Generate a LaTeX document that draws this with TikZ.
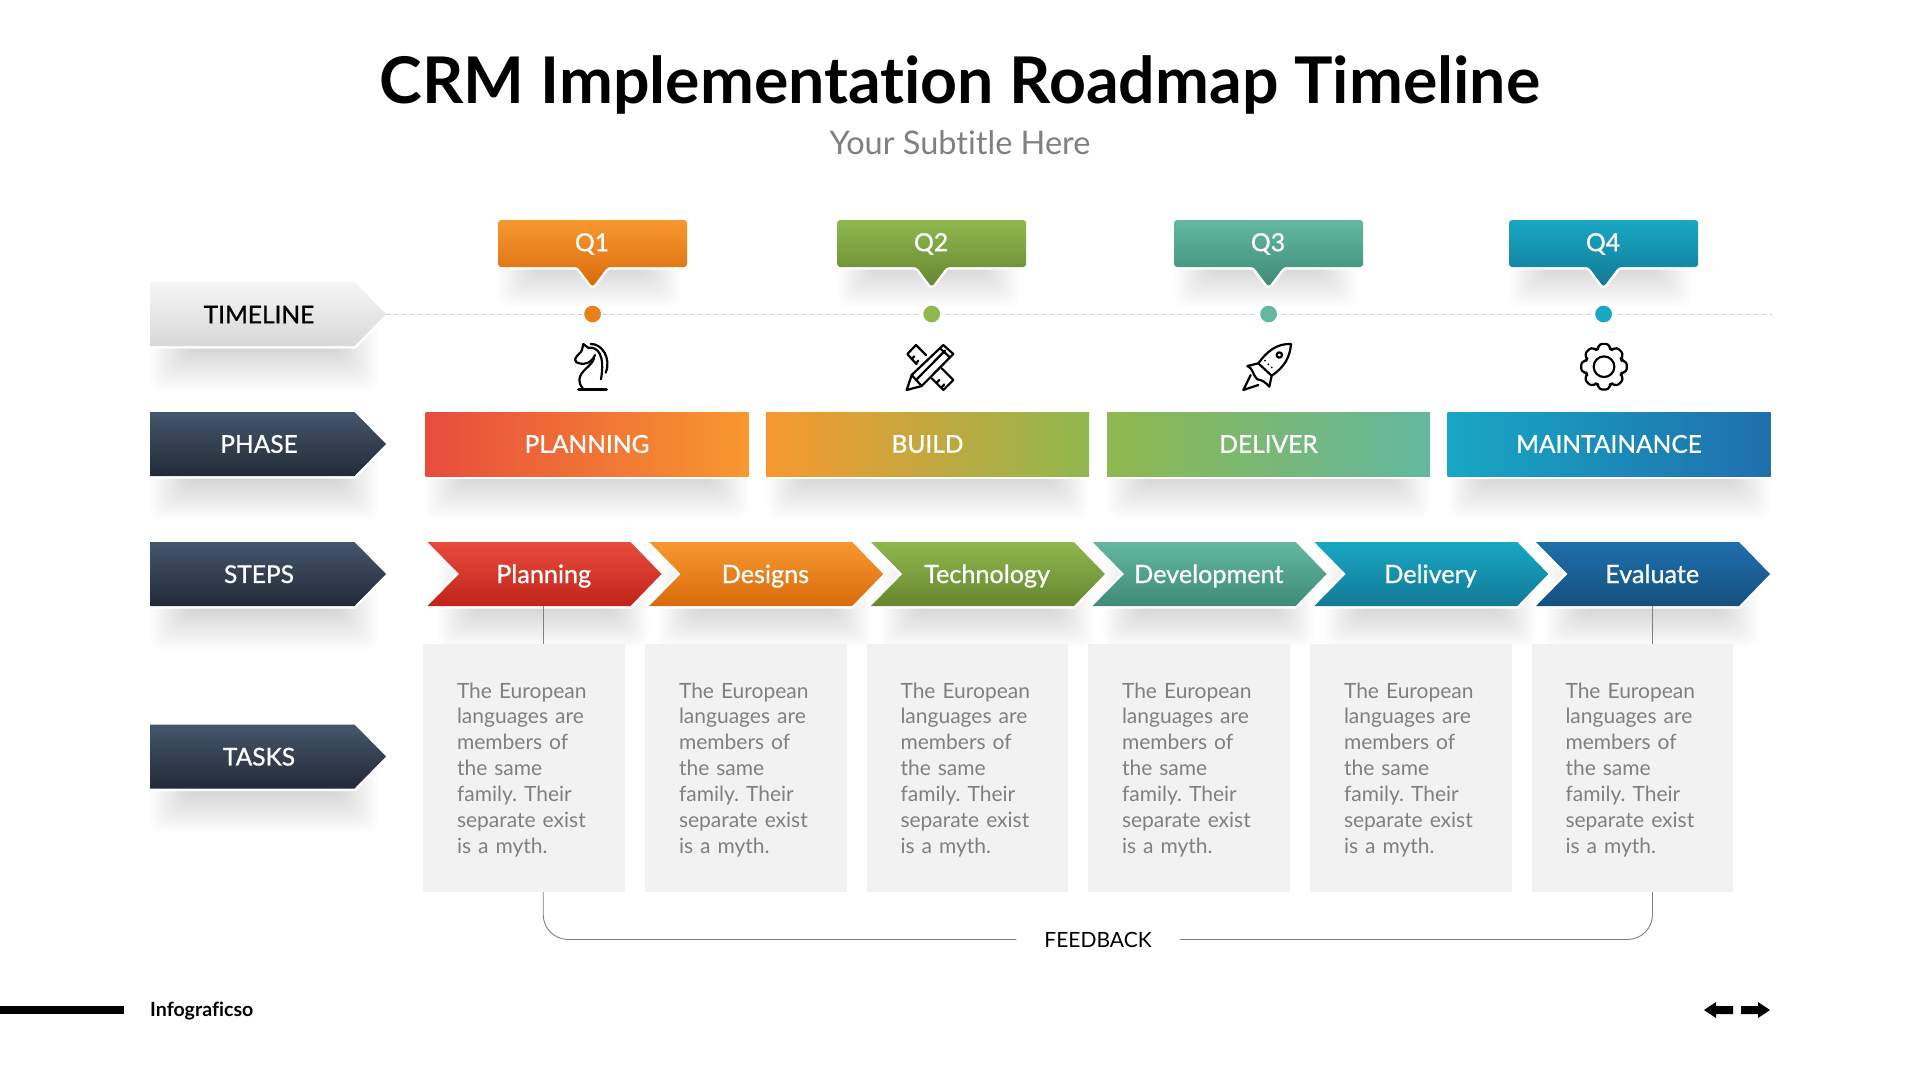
\documentclass[tikz,border=0pt]{standalone}
\usepackage{fontspec}
\setmainfont{Lato}[Ligatures = NoCommon]
\newfontfamily\labelfont{Lato}[Ligatures = NoCommon, FakeBold = 0.9]
\usetikzlibrary{calc}

% gradient ends
\definecolor{redTop}{HTML}{E84C3D}
\definecolor{redBot}{HTML}{C0241A}
\definecolor{orangeTop}{HTML}{F7982F}
\definecolor{orangeBot}{HTML}{D96B0C}
\definecolor{orangeDot}{HTML}{E8811A}
\definecolor{greenTop}{HTML}{8FB84E}
\definecolor{greenBot}{HTML}{66862F}
\definecolor{tealTop}{HTML}{62B8A0}
\definecolor{tealBot}{HTML}{3F8A78}
\definecolor{cyanTop}{HTML}{18A7C4}
\definecolor{cyanBot}{HTML}{127A96}
\definecolor{blueTop}{HTML}{1F6FAD}
\definecolor{blueBot}{HTML}{15507E}
\definecolor{slateTop}{HTML}{46566D}
\definecolor{slateBot}{HTML}{222A36}
\definecolor{paleTop}{HTML}{F6F6F6}
\definecolor{paleBot}{HTML}{D8D8D8}
\definecolor{taskGrey}{HTML}{F2F2F2}
\definecolor{taskInk}{HTML}{808080}

\tikzset{
	labeltext/.style = {font = \fontsize{24.5}{30}\labelfont\selectfont, text = white},
	phasebar/.style = {minimum width = 323, minimum height = 64, inner sep = 0, labeltext},
	quartertext/.style = {font = \fontsize{24.8}{30}\labelfont\selectfont, text = white, inner sep = 0},
	steptext/.style = {minimum width = 234, minimum height = 64, inner sep = 0, text height = 24, text depth = 6, font = \fontsize{25.2}{30}\labelfont\selectfont, text = white},
	taskbox/.style = {fill = taskGrey, minimum width = 201.5, minimum height = 248, inner sep = 0},
	tasktext/.style = {text = taskInk, inner sep = 0, text width = 134, align = left, font = \fontsize{21}{25.9}\selectfont\frenchspacing},
	dotmark/.style = {circle, draw = white, line width = 2, minimum size = 19, inner sep = 0},
	linkline/.style = {draw = gray, line width = 0.9},
	whiteedge/.style = {preaction = {draw = white, line width = 5}},
	iconline/.style = {draw = black, line width = 2.2, line cap = round, line join = round}
}

% blurred shadow made of nested rectangles
\newcommand{\softShadow}[4]{
	\foreach \k in {0,...,20}
		\fill [black, opacity = 0.0065, rounded corners = 10] ({#1 + \k * 2}, {#2 + \k * 2}) rectangle ({#3 - \k * 2}, {#4 - \k * 2});
}

% row label arrow at the left
\newcommand{\rowArrow}[3]{
	\softShadow{150}{#1 - 20}{378}{#1 + 76}
	\path [whiteedge, top color = #2, bottom color = #3] (150, #1 - 32) -- (354.5, #1 - 32) -- (386, #1) -- (354.5, #1 + 32) -- (150, #1 + 32) -- cycle;
}

\begin{document}
\begin{tikzpicture}[x = 1pt, y = -1pt]
	\useasboundingbox (0,0) rectangle (1920,1080);

	% title
	\node (title) at (960, 85) {\fontsize{64.4}{70}\selectfont\bfseries CRM Implementation Roadmap Timeline};
	\node (subtitle) at (960, 143) [text = taskInk] {\fontsize{32.5}{36}\selectfont Your Subtitle Here};

	% row labels
	\rowArrow{314}{paleTop}{paleBot}
	\rowArrow{444}{slateTop}{slateBot}
	\rowArrow{574}{slateTop}{slateBot}
	\rowArrow{756.5}{slateTop}{slateBot}
	\node (timelineLabel) at (259, 314.6) [labeltext, text = black] {TIMELINE};
	\node (phaseLabel) at (259, 444) [labeltext] {PHASE};
	\node (stepsLabel) at (259, 574.2) [labeltext] {STEPS};
	\node (tasksLabel) at (259, 756.7) [labeltext] {TASKS};

	% dashed timeline
	\coordinate (timelineTip) at (386, 314);
	\coordinate (timelineEnd) at (1772, 314);
	\draw [dash pattern = on 5pt off 3pt, draw = black!18, line width = 0.9] (timelineTip) -- (timelineEnd);

	% quarters with their dots
	\foreach \qx/\name/\topc/\botc/\dotc/\txt in {592.6/A/orangeTop/orangeBot/orangeDot/Q1, 931.7/B/greenTop/greenBot/greenTop/Q2, 1268.6/C/tealTop/tealBot/tealTop/Q3, 1603.6/D/cyanTop/cyanBot/cyanTop/Q4} {
		\softShadow{\qx - 94}{227}{\qx + 88}{307}
		\path [whiteedge, top color = \topc, bottom color = \botc, rounded corners = 3]
			({\qx - 94.5}, 220) -- ({\qx + 94.5}, 220) -- ({\qx + 94.5}, 267) -- ({\qx + 15}, 267) -- (\qx, 287) -- ({\qx - 15}, 267) -- ({\qx - 94.5}, 267) -- cycle;
		\node (quarter\name) at (\qx, 244) [quartertext, xshift = -0.6] {\txt};
		\node (dot\name) at (\qx, 314) [dotmark, fill = \dotc] {};
	}

	% knight icon
	\begin{scope}[shift = {(560, 330)}, x = 0.3333pt, y = -0.3333pt]
		\draw [iconline] (105,75) .. controls (95,100) and (70,105) .. (58,100) .. controls (52,100) and (45,95) .. (45,88) .. controls (50,75) and (62,70) .. (66,60) -- (70,42) -- (84,53);
		\draw [iconline] (84,53) .. controls (115,50) and (135,75) .. (123,148);
		\draw [iconline] (92,42) .. controls (125,40) and (155,85) .. (137,128);
		\draw [iconline] (102,85) .. controls (95,110) and (60,120) .. (58,150) .. controls (58,160) and (62,168) .. (68,175);
		\draw [iconline, line width = 3.6] (56,179) -- (139,179);
	\end{scope}

	% pencil and ruler icon
	\begin{scope}[shift = {(890, 330)}, x = 0.3333pt, y = -0.3333pt]
		\draw [iconline] (80,103) -- (52,72) -- (78,45) -- (108,75);
		\draw [iconline] (65,87) -- (73,79) (78,100) -- (85,92);
		\draw [iconline] (155,115) -- (190,150) -- (160,180) -- (125,145);
		\draw [iconline] (140,158) -- (148,150) (155,172) -- (163,163);
		\draw [iconline] (50,180) -- (65,135) -- (160,45) -- (190,72) -- (95,168) -- cycle;
		\draw [iconline] (150,55) -- (180,82) (65,135) -- (95,168) (78,150) -- (165,62);
	\end{scope}

	% rocket icon
	\begin{scope}[shift = {(1230, 330)}, x = 0.3333pt, y = -0.3333pt]
		\draw [iconline] (183,42) .. controls (140,40) and (110,65) .. (85,100) -- (125,137) .. controls (165,110) and (180,80) .. (183,42);
		\draw [iconline] (148,75) circle (8);
		\fill (105,92) circle (3) (115,103) circle (3) (125,112) circle (3);
		\draw [iconline] (85,100) -- (52,108) .. controls (70,115) and (65,130) .. (82,148) .. controls (95,150) and (105,155) .. (118,170) -- (125,137);
		\draw [iconline] (62,135) -- (40,180) -- (85,165);
	\end{scope}

	% gear icon
	\begin{scope}[shift = {(1604, 366.7)}, x = 0.3333pt, y = -0.3333pt]
		\draw [iconline, rounded corners = 3] (-18:56) \foreach \a in {0,45,...,315} { -- ({\a - 18}:56) -- ({\a - 12}:70) -- ({\a + 12}:70) -- ({\a + 18}:56) } -- cycle;
		\draw [iconline] (0,0) circle (31);
	\end{scope}

	% phases
	\foreach \px/\name/\leftc/\rightc/\txt in {587/A/redTop/orangeTop/PLANNING, 927.5/B/orangeTop/greenTop/BUILD, 1268.5/C/greenTop/tealTop/DELIVER, 1609/D/cyanTop/blueTop/MAINTAINANCE} {
		\softShadow{\px - 161}{425}{\px + 161}{518}
		\path [whiteedge] ({\px - 161.5}, 412) rectangle ({\px + 161.5}, 476);
		\node (phase\name) at (\px, 444) [phasebar, left color = \leftc, right color = \rightc] {\txt};
	}

	% steps and their task boxes
	\foreach \sx/\name/\topc/\botc/\txt/\tx in {427.5/A/redTop/redBot/Planning/524, 649.2/B/orangeTop/orangeBot/Designs/746, 870.9/C/greenTop/greenBot/Technology/967.5, 1092.6/D/tealTop/tealBot/Development/1189, 1314.3/E/cyanTop/cyanBot/Delivery/1411, 1536/F/blueTop/blueBot/Evaluate/1632.5} {
		\softShadow{\sx + 10}{555}{\sx + 222}{648}
		\path [whiteedge, top color = \topc, bottom color = \botc] (\sx, 542) -- ({\sx + 203}, 542) -- ({\sx + 234}, 574) -- ({\sx + 203}, 606) -- (\sx, 606) -- ({\sx + 31.5}, 574) -- cycle;
		\node (step\name) at ({\sx + 116.2}, 574) [steptext] {\txt};
		\node (task\name) at (\tx, 768) [taskbox] {};
		\node (taskText\name) at (\tx, 769.8) [tasktext] {The European\\languages are\\members of\\the same\\family. Their\\separate exist\\is a myth.};
	}

	% feedback link
	\coordinate (linkA) at ([xshift = -0.5]stepA.south);
	\coordinate (linkF) at ([xshift = 0.3]stepF.south);
	\node (feedback) at (1098, 939.5) [minimum width = 163, inner sep = 0, font = \fontsize{21}{26}\selectfont] {FEEDBACK};
	\draw [linkline] (linkA) -- (linkA |- taskA.north);
	\draw [linkline] (linkF) -- (linkF |- taskF.north);
	\draw [linkline, rounded corners = 25] (linkA |- taskA.south) |- (feedback.west);
	\draw [linkline, rounded corners = 25] (linkF |- taskF.south) |- (feedback.east);

	% footer
	\fill (0, 1006) rectangle (124, 1014);
	\node (brand) at (150, 1011) [anchor = west, inner sep = 0, font = \fontsize{19.6}{22}\selectfont\bfseries] {Infograficso};
	\fill (1704, 1010) -- (1716, 1002) -- (1716, 1006) -- (1733, 1006) -- (1733, 1014) -- (1716, 1014) -- (1716, 1018) -- cycle;
	\fill (1770, 1010) -- (1758, 1002) -- (1758, 1006) -- (1741, 1006) -- (1741, 1014) -- (1758, 1014) -- (1758, 1018) -- cycle;

\end{tikzpicture}
\end{document}
